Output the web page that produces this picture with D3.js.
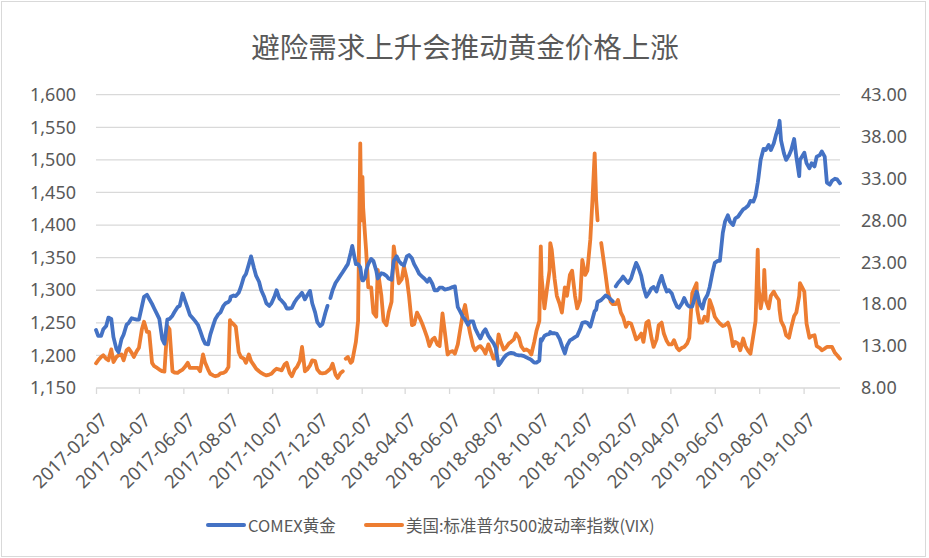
<!DOCTYPE html>
<html><head><meta charset="utf-8">
<script src="https://cdn.jsdelivr.net/npm/d3@7/dist/d3.min.js"></script>
<style>body{margin:0;background:#fff;} svg{display:block;}</style>
</head><body><svg id="chart" width="929" height="558"></svg>
<script>
const titleText = "避险需求上升会推动黄金价格上涨";
const seriesNames = ["COMEX黄金", "美国:标准普尔500波动率指数(VIX)"];
// one line per month
const dates = [
"2017-02-07","2017-02-10","2017-02-14","2017-02-17","2017-02-21","2017-02-24","2017-02-28",
"2017-03-03","2017-03-07","2017-03-10","2017-03-14","2017-03-17","2017-03-21","2017-03-24","2017-03-28","2017-03-31",
"2017-04-04","2017-04-07","2017-04-11","2017-04-14","2017-04-18","2017-04-21","2017-04-25","2017-04-28",
"2017-05-02","2017-05-05","2017-05-09","2017-05-12","2017-05-16","2017-05-19","2017-05-23","2017-05-26","2017-05-30",
"2017-06-02","2017-06-06","2017-06-09","2017-06-13","2017-06-16","2017-06-20","2017-06-23","2017-06-27","2017-06-30",
"2017-07-04","2017-07-07","2017-07-11","2017-07-14","2017-07-18","2017-07-21","2017-07-25","2017-07-28",
"2017-08-01","2017-08-04","2017-08-08","2017-08-10","2017-08-11","2017-08-15","2017-08-18","2017-08-22","2017-08-25","2017-08-29",
"2017-09-01","2017-09-05","2017-09-08","2017-09-12","2017-09-15","2017-09-19","2017-09-22","2017-09-26","2017-09-29",
"2017-10-03","2017-10-06","2017-10-10","2017-10-13","2017-10-17","2017-10-20","2017-10-24","2017-10-27","2017-10-31",
"2017-11-03","2017-11-07","2017-11-10","2017-11-14","2017-11-17","2017-11-21","2017-11-24","2017-11-28",
"2017-12-01","2017-12-05","2017-12-08","2017-12-12","2017-12-15","2017-12-19","2017-12-22","2017-12-26","2017-12-29",
"2018-01-02","2018-01-05","2018-01-09","2018-01-12","2018-01-16","2018-01-19","2018-01-23","2018-01-25","2018-01-30",
"2018-02-02","2018-02-05","2018-02-06","2018-02-07","2018-02-08","2018-02-09","2018-02-12","2018-02-13","2018-02-16","2018-02-20","2018-02-23","2018-02-27",
"2018-03-01","2018-03-06","2018-03-09","2018-03-13","2018-03-16","2018-03-20","2018-03-23","2018-03-27","2018-03-30",
"2018-04-03","2018-04-06","2018-04-10","2018-04-13","2018-04-17","2018-04-20","2018-04-24","2018-04-27",
"2018-05-01","2018-05-04","2018-05-08","2018-05-11","2018-05-15","2018-05-18","2018-05-22","2018-05-25","2018-05-29",
"2018-06-01","2018-06-05","2018-06-08","2018-06-12","2018-06-15","2018-06-19","2018-06-22","2018-06-26","2018-06-29",
"2018-07-03","2018-07-06","2018-07-10","2018-07-13","2018-07-17","2018-07-20","2018-07-24","2018-07-27","2018-07-31",
"2018-08-03","2018-08-07","2018-08-10","2018-08-14","2018-08-17","2018-08-21","2018-08-24","2018-08-28","2018-08-31",
"2018-09-04","2018-09-07","2018-09-11","2018-09-14","2018-09-18","2018-09-21","2018-09-25","2018-09-28",
"2018-10-02","2018-10-05","2018-10-09","2018-10-11","2018-10-12","2018-10-16","2018-10-19","2018-10-23","2018-10-24","2018-10-26","2018-10-30",
"2018-11-02","2018-11-06","2018-11-09","2018-11-13","2018-11-16","2018-11-20","2018-11-23","2018-11-27","2018-11-30",
"2018-12-04","2018-12-07","2018-12-11","2018-12-14","2018-12-18","2018-12-21","2018-12-24","2018-12-26","2018-12-28",
"2019-01-02","2019-01-08","2019-01-11","2019-01-15","2019-01-18","2019-01-22","2019-01-25","2019-01-29",
"2019-02-01","2019-02-05","2019-02-08","2019-02-12","2019-02-15","2019-02-19","2019-02-22","2019-02-26",
"2019-03-01","2019-03-05","2019-03-08","2019-03-12","2019-03-15","2019-03-19","2019-03-22","2019-03-26","2019-03-29",
"2019-04-02","2019-04-05","2019-04-09","2019-04-12","2019-04-16","2019-04-19","2019-04-23","2019-04-26","2019-04-30",
"2019-05-03","2019-05-07","2019-05-13","2019-05-14","2019-05-17","2019-05-21","2019-05-24","2019-05-28","2019-05-31",
"2019-06-04","2019-06-07","2019-06-11","2019-06-14","2019-06-18","2019-06-21","2019-06-25","2019-06-28",
"2019-07-02","2019-07-05","2019-07-09","2019-07-12","2019-07-16","2019-07-19","2019-07-23","2019-07-26","2019-07-30",
"2019-08-02","2019-08-05","2019-08-06","2019-08-09","2019-08-13","2019-08-14","2019-08-16","2019-08-20","2019-08-23","2019-08-27","2019-08-30",
"2019-09-03","2019-09-04","2019-09-06","2019-09-10","2019-09-13","2019-09-17","2019-09-20","2019-09-24","2019-09-27",
"2019-10-01","2019-10-02","2019-10-08","2019-10-11","2019-10-15","2019-10-18","2019-10-22","2019-10-25","2019-10-29",
"2019-11-01","2019-11-05","2019-11-08","2019-11-12","2019-11-15","2019-11-19","2019-11-22","2019-11-26"
];
const goldValues = [
1239,1230,1230,1240,1245,1258,1256,
1228,1210,1205,1225,1232,1247,1250,1257,1256,
1255,1255,1275,1290,1293,1287,1279,1272,
1263,1256,1225,1218,1255,1256,1261,1267,1274,
1276,1295,1285,1272,1262,1257,1253,1247,1238,
1225,1218,1217,1232,1246,1256,1263,1266,
1276,1280,1282,1285,1290,1292,1291,1296,1305,1320,
1325,1340,1352,1334,1322,1313,1300,1290,1280,
1276,1280,1290,1300,1287,1284,1279,1272,1272,
1273,1282,1287,1292,1296,1286,1292,1299,
1280,1266,1251,1245,1248,1265,1276,1288,1300,
1311,1316,1323,1328,1335,1340,1358,1368,1340,
1340,1335,1328,1318,1315,1315,1320,1330,1340,1348,1345,1330,
1318,1326,1325,1322,1318,1316,1345,1352,1345,
1340,1338,1352,1354,1349,1340,1332,1325,
1321,1318,1313,1318,1310,1300,1300,1304,1304,
1301,1302,1303,1305,1306,1274,1268,1259,1255,
1247,1252,1252,1241,1232,1226,1236,1240,1230,
1225,1219,1212,1185,1189,1196,1200,1203,1204,
1203,1201,1200,1200,1199,1197,1195,1193,
1189,1189,1192,1225,1222,1230,1232,1233,1236,1234,1234,
1233,1225,1215,1203,1215,1223,1225,1228,1230,
1240,1250,1251,1250,1244,1256,1268,1270,1282,
1285,1292,1290,1286,1283,1306,1311,1316,
1321,1315,1311,1318,1329,1342,1335,1322,
1305,1290,1295,1303,1305,1298,1310,1322,1310,
1298,1300,1295,1285,1275,1273,1280,1288,1278,
1275,1275,1298,1295,1280,1272,1285,1293,1305,
1328,1342,1345,1345,1388,1405,1415,1405,
1400,1410,1413,1418,1424,1426,1430,1437,1436,
1445,1465,1473,1500,1517,1517,1515,1523,1515,1525,1538,
1552,1560,1530,1510,1500,1507,1515,1532,1505,
1475,1500,1511,1495,1487,1495,1490,1505,1507,
1513,1505,1465,1462,1468,1471,1470,1464
];
const vixValues = [
10.95,11.3,11.7,11.9,11.5,11.3,12.6,
11.1,11.7,11.9,12.0,11.3,12.5,12.7,12.2,11.7,
12.4,12.8,15.0,15.9,14.7,14.7,11.0,10.6,
10.4,10.2,10.0,9.95,15.4,15.0,10.0,9.85,9.8,
10.0,10.2,10.5,11.0,10.4,10.4,10.4,10.4,10.0,
12.0,11.0,10.2,9.7,9.5,9.4,9.5,9.75,
9.8,9.95,10.5,16.1,15.9,15.6,15.3,12.3,11.7,11.5,
11.0,12.0,11.2,10.7,10.3,10.0,9.8,9.6,9.5,
9.6,9.7,10.1,10.3,10.2,10.1,10.8,11.0,9.8,
9.4,10.2,10.5,11.2,12.9,10.0,10.2,10.7,
11.3,11.2,10.2,9.8,9.75,9.8,10.0,10.3,10.9,
9.6,9.2,9.8,10.0,11.5,11.7,11.0,11.2,13.5,
16.0,37.2,30.5,28.0,33.2,29.5,25.7,24.5,20.0,20.0,17.0,16.5,
22.1,19.0,16.0,15.5,17.0,18.3,24.9,22.5,20.5,
21.0,22.5,21.0,19.0,15.5,15.6,17.0,16.5,
15.7,15.0,14.0,13.0,13.8,14.0,13.2,13.0,16.9,
14.8,12.0,12.3,12.4,12.1,13.2,14.8,16.9,17.9,
15.8,14.5,13.0,12.5,12.9,13.0,12.6,12.1,13.2,
12.5,11.5,11.5,14.4,13.5,12.6,12.8,13.3,13.5,
13.8,14.5,14.0,13.0,12.5,12.6,12.4,12.0,
13.5,14.8,16.0,24.9,21.3,17.5,19.5,22.0,25.3,24.5,21.0,
19.0,18.0,17.0,20.0,19.0,21.5,22.0,19.0,17.5,
18.5,23.3,21.5,22.0,25.7,30.5,36.0,30.5,28.0,
25.3,21.5,19.5,18.3,18.0,18.0,18.5,17.0,
16.5,15.3,15.8,15.7,14.9,13.8,14.0,14.5,
13.5,15.8,16.0,14.0,12.9,13.8,15.5,15.8,14.5,
13.6,13.2,13.2,13.7,12.8,12.5,12.8,12.9,13.3,
14.0,19.3,20.5,17.3,15.8,15.8,16.5,16.0,18.5,
17.5,16.5,16.0,15.7,15.4,15.5,15.8,15.0,
13.0,13.5,13.3,12.5,13.9,13.0,12.4,12.1,14.3,
16.0,24.5,20.2,17.5,19.5,22.1,18.5,17.5,19.0,19.5,19.0,
18.5,17.3,16.0,15.3,14.3,14.0,15.2,16.6,17.0,
19.0,20.5,19.5,15.7,14.0,14.2,14.3,13.0,12.8,
12.5,12.7,12.9,12.9,12.9,12.2,11.9,11.5
];
// holidays where a series has no value, which breaks its line
const goldGapDates = ["2017-12-25","2019-01-21"];
const vixGapDates = ["2018-01-15","2019-01-01"];
const leftTicks = [1150,1200,1250,1300,1350,1400,1450,1500,1550,1600];
const rightTicks = [8,13,18,23,28,33,38,43];
const xTickDates = ["2017-02-07","2017-04-07","2017-06-07","2017-08-07","2017-10-07","2017-12-07","2018-02-07","2018-04-07","2018-06-07","2018-08-07","2018-10-07","2018-12-07","2019-02-07","2019-04-07","2019-06-07","2019-08-07","2019-10-07"];

const parse = d3.timeParse("%Y-%m-%d");
const fmtDate = d3.timeFormat("%Y-%m-%d");
const W = 929, H = 558;
const plot = {left: 96, right: 840, top: 94.7, bottom: 388};
const textColor = "#595959";
const numFont = "'Noto Sans','Open Sans',sans-serif";
const cjkFont = "'Noto Sans CJK SC','Noto Sans',sans-serif";

const svg = d3.select("#chart");
svg.append("rect").attr("x",1.5).attr("y",1.5).attr("width",W-5).attr("height",H-3)
  .attr("fill","#fff").attr("stroke","#d9d9d9").attr("stroke-width",1);

const x = d3.scaleTime().domain([parse(dates[0]), parse(dates[dates.length-1])]).range([plot.left, plot.right]);
const yL = d3.scaleLinear().domain([1150,1600]).range([plot.bottom, plot.top]);
const yR = d3.scaleLinear().domain([8,43]).range([plot.bottom, plot.top]);

svg.append("text").attr("x",465).attr("y",45).attr("text-anchor","middle").attr("dominant-baseline","central")
  .attr("font-family",cjkFont).attr("font-size",28.5).attr("fill",textColor).text(titleText);

svg.append("g").selectAll("line").data(leftTicks.slice(1)).join("line")
  .attr("x1",plot.left).attr("x2",plot.right).attr("y1",d=>yL(d)).attr("y2",d=>yL(d))
  .attr("stroke","#d9d9d9").attr("stroke-width",1.3);

const gL = svg.append("g").attr("transform",`translate(${plot.left},0)`)
  .call(d3.axisLeft(yL).tickValues(leftTicks).tickFormat(d3.format(",")).tickSize(0).tickPadding(20));
gL.select(".domain").remove();
gL.selectAll("text").attr("font-family",numFont).attr("font-size",18).attr("fill",textColor);

const gR = svg.append("g").attr("transform",`translate(${plot.right},0)`)
  .call(d3.axisRight(yR).tickValues(rightTicks).tickFormat(d3.format(".2f")).tickSize(0).tickPadding(21));
gR.select(".domain").remove();
gR.selectAll("text").attr("font-family",numFont).attr("font-size",18).attr("fill",textColor);

const gB = svg.append("g").attr("transform",`translate(0,${plot.bottom})`)
  .call(d3.axisBottom(x).tickValues(xTickDates.map(parse)).tickFormat(fmtDate).tickSize(6).tickSizeOuter(0));
gB.select(".domain").attr("d",`M${plot.left},0H${plot.right}`).attr("stroke","#d9d9d9").attr("stroke-width",1.3);
gB.selectAll(".tick line").attr("stroke","#d9d9d9").attr("stroke-width",1.3);
gB.selectAll("text").attr("font-family",numFont).attr("font-size",18.5).attr("fill",textColor)
  .attr("text-anchor","end").attr("dominant-baseline","central")
  .attr("transform","translate(7,28) rotate(-45)").attr("x",0).attr("y",0).attr("dy",null);

function buildSeries(values, gaps) {
  const pts = dates.map((d,i)=>({date: parse(d), v: values[i]}))
    .concat(gaps.map(d=>({date: parse(d), v: null})));
  return pts.sort((a,b)=>a.date-b.date);
}
const goldSeries = buildSeries(goldValues, goldGapDates);
const vixSeries = buildSeries(vixValues, vixGapDates);

const lineG = d3.line().defined(d=>d.v!=null).x(d=>x(d.date)).y(d=>yL(d.v));
const lineV = d3.line().defined(d=>d.v!=null).x(d=>x(d.date)).y(d=>yR(d.v));

svg.append("path").datum(vixSeries).attr("d",lineV).attr("fill","none").attr("stroke","#ed7d31")
  .attr("stroke-width",3.8).attr("stroke-linejoin","round").attr("stroke-linecap","round");
svg.append("path").datum(goldSeries).attr("d",lineG).attr("fill","none").attr("stroke","#4472c4")
  .attr("stroke-width",3.8).attr("stroke-linejoin","round").attr("stroke-linecap","round");

const legend = [
  {name: seriesNames[0], color: "#4472c4", x: 208},
  {name: seriesNames[1], color: "#ed7d31", x: 366}
];
const lg = svg.append("g").selectAll("g").data(legend).join("g").attr("transform",d=>`translate(${d.x},525)`);
lg.append("line").attr("x1",0).attr("x2",36).attr("y1",0).attr("y2",0).attr("stroke",d=>d.color)
  .attr("stroke-width",4).attr("stroke-linecap","round");
lg.append("text").attr("x",40).attr("y",0).attr("dominant-baseline","central")
  .attr("font-family",cjkFont).attr("font-size",16.5).attr("fill",textColor).text(d=>d.name);
</script></body></html>
